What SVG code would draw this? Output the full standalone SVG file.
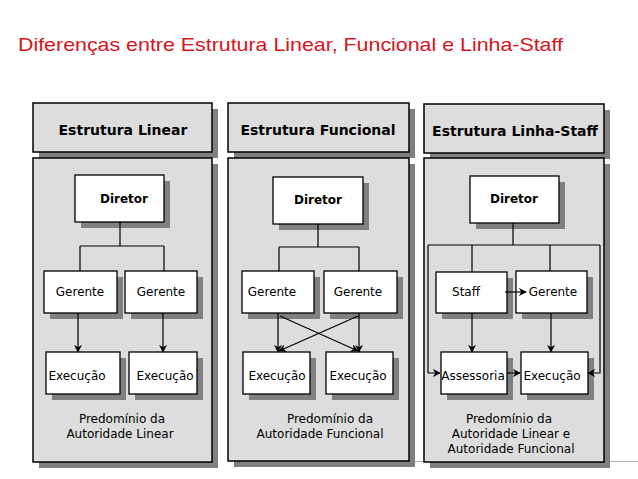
<svg xmlns="http://www.w3.org/2000/svg" width="638" height="479" viewBox="0 0 638 479">
<style>
.sh{fill:#808080}
.pan{fill:#dddddd;stroke:#000;stroke-width:1.5}
.box{fill:#fff;stroke:#000;stroke-width:1.3}
.hd{font-family:"DejaVu Sans",Verdana,sans-serif;font-weight:bold;font-size:14px;fill:#000;text-anchor:middle}
.dr{font-family:"DejaVu Sans",Verdana,sans-serif;font-weight:bold;font-size:12px;fill:#000;text-anchor:middle}
.t{font-family:"DejaVu Sans",Verdana,sans-serif;font-size:12px;fill:#000;text-anchor:middle}
.c{fill:none;stroke:#000;stroke-width:1.2}
.a{fill:none;stroke:#000;stroke-width:1.2;marker-end:url(#ah)}
</style>
<defs>
<marker id="ah" viewBox="0 0 10 10" refX="9" refY="5" markerWidth="8" markerHeight="8" markerUnits="userSpaceOnUse" orient="auto">
<path d="M0,0 L10,5 L0,10 L3,5 z" fill="#000"/>
</marker>
</defs>
<rect width="638" height="479" fill="#fff"/>
<line x1="410" y1="461.5" x2="638" y2="461.5" stroke="#b0b0b0" stroke-width="1"/>
<text x="18" y="51" font-family="Liberation Sans,Arial,sans-serif" font-size="19" fill="#d8141c" textLength="545" lengthAdjust="spacingAndGlyphs">Diferenças entre Estrutura Linear, Funcional e Linha-Staff</text>

<!-- Column 1 -->
<g id="header-linear">
<rect class="sh" x="39" y="109" width="179" height="49"/>
<rect class="pan" x="33" y="103" width="179" height="49"/>
<text class="hd" x="123" y="135">Estrutura Linear</text>
</g>
<g id="panel-linear">
<rect class="sh" x="39" y="164" width="179" height="304"/>
<rect class="pan" x="33" y="158" width="179" height="304"/>
<text class="t" x="122" y="423">Predomínio da</text>
<text class="t" x="120" y="438">Autoridade Linear</text>
</g>
<g id="l-diretor">
<rect class="sh" x="81" y="181" width="89" height="47"/>
<rect class="box" x="75" y="175" width="89" height="47"/>
<text class="dr" x="124" y="203">Diretor</text>
</g>
<g id="l-gerente1">
<rect class="sh" x="50" y="277" width="73" height="42"/>
<rect class="box" x="44" y="271" width="73" height="42"/>
<text class="t" x="80" y="296">Gerente</text>
</g>
<g id="l-gerente2">
<rect class="sh" x="131" y="277" width="72" height="42"/>
<rect class="box" x="125" y="271" width="72" height="42"/>
<text class="t" x="161" y="296">Gerente</text>
</g>
<g id="l-exec1">
<rect class="sh" x="52" y="358" width="74" height="42"/>
<rect class="box" x="46" y="352" width="74" height="42"/>
<text class="t" x="77" y="380">Execução</text>
</g>
<g id="l-exec2">
<rect class="sh" x="135" y="358" width="68" height="42"/>
<rect class="box" x="129" y="352" width="68" height="42"/>
<text class="t" x="165" y="380">Execução</text>
</g>

<!-- Column 2 -->
<g id="header-funcional">
<rect class="sh" x="234" y="109" width="181" height="49"/>
<rect class="pan" x="228" y="103" width="181" height="49"/>
<text class="hd" x="318" y="135">Estrutura Funcional</text>
</g>
<g id="panel-funcional">
<rect class="sh" x="234" y="164" width="181" height="303"/>
<rect class="pan" x="228" y="158" width="181" height="303"/>
<text class="t" x="330" y="423">Predomínio da</text>
<text class="t" x="320" y="438">Autoridade Funcional</text>
</g>
<g id="f-diretor">
<rect class="sh" x="279" y="183" width="90" height="47"/>
<rect class="box" x="273" y="177" width="90" height="47"/>
<text class="dr" x="318" y="204">Diretor</text>
</g>
<g id="f-gerente1">
<rect class="sh" x="248" y="277" width="72" height="42"/>
<rect class="box" x="242" y="271" width="72" height="42"/>
<text class="t" x="272" y="296">Gerente</text>
</g>
<g id="f-gerente2">
<rect class="sh" x="330" y="277" width="73" height="42"/>
<rect class="box" x="324" y="271" width="73" height="42"/>
<text class="t" x="358" y="296">Gerente</text>
</g>
<g id="f-exec1">
<rect class="sh" x="249" y="358" width="67" height="42"/>
<rect class="box" x="243" y="352" width="67" height="42"/>
<text class="t" x="277" y="380">Execução</text>
</g>
<g id="f-exec2">
<rect class="sh" x="332" y="358" width="67" height="42"/>
<rect class="box" x="326" y="352" width="67" height="42"/>
<text class="t" x="358" y="380">Execução</text>
</g>

<!-- Column 3 -->
<g id="header-linhastaff">
<rect class="sh" x="430" y="110" width="180" height="49"/>
<rect class="pan" x="424" y="104" width="180" height="49"/>
<text class="hd" x="515" y="136">Estrutura Linha-Staff</text>
</g>
<g id="panel-linhastaff">
<rect class="sh" x="430" y="164" width="180" height="304"/>
<rect class="pan" x="424" y="158" width="180" height="304"/>
<text class="t" x="509" y="423">Predomínio da</text>
<text class="t" x="511" y="438">Autoridade Linear e</text>
<text class="t" x="511" y="453">Autoridade Funcional</text>
</g>
<g id="s-diretor">
<rect class="sh" x="476" y="182" width="89" height="47"/>
<rect class="box" x="470" y="176" width="89" height="47"/>
<text class="dr" x="514" y="203">Diretor</text>
</g>
<g id="s-staff">
<rect class="sh" x="442" y="278" width="71" height="41"/>
<rect class="box" x="436" y="272" width="71" height="41"/>
<text class="t" x="466" y="296">Staff</text>
</g>
<g id="s-gerente">
<rect class="sh" x="522" y="277" width="71" height="42"/>
<rect class="box" x="516" y="271" width="71" height="42"/>
<text class="t" x="553" y="296">Gerente</text>
</g>
<g id="s-assessoria">
<rect class="sh" x="447" y="358" width="66" height="42"/>
<rect class="box" x="441" y="352" width="66" height="42"/>
<text class="t" x="473" y="380">Assessoria</text>
</g>
<g id="s-exec">
<rect class="sh" x="527" y="358" width="67" height="42"/>
<rect class="box" x="521" y="352" width="67" height="42"/>
<text class="t" x="552" y="380">Execução</text>
</g>

<g id="connectors">
<!-- col 1 -->
<path class="c" d="M120,222 V246 M80,246 H164 M80,246 V271 M164,246 V271"/>
<path class="a" d="M78,313 V352"/>
<path class="a" d="M163,313 V352"/>
<!-- col 2 -->
<path class="c" d="M318,224 V247 M279,247 H359 M279,247 V271 M359,247 V271"/>
<path class="a" d="M278,313 V352"/>
<path class="a" d="M359,313 V352"/>
<path class="a" d="M280,316 L358,351"/>
<path class="a" d="M358,316 L279,351"/>
<!-- col 3 -->
<path class="c" d="M513,223 V245 M428,245 H600 M472,245 V272 M550,245 V271"/>
<path class="a" d="M428,245 V373 H440"/>
<path class="a" d="M600,245 V373 H588"/>
<path class="a" d="M472,313 V352"/>
<path class="a" d="M551,313 V352"/>
<path class="a" d="M505,292 H526"/>
<path class="a" d="M507,373 H520"/>
</g>
</svg>
